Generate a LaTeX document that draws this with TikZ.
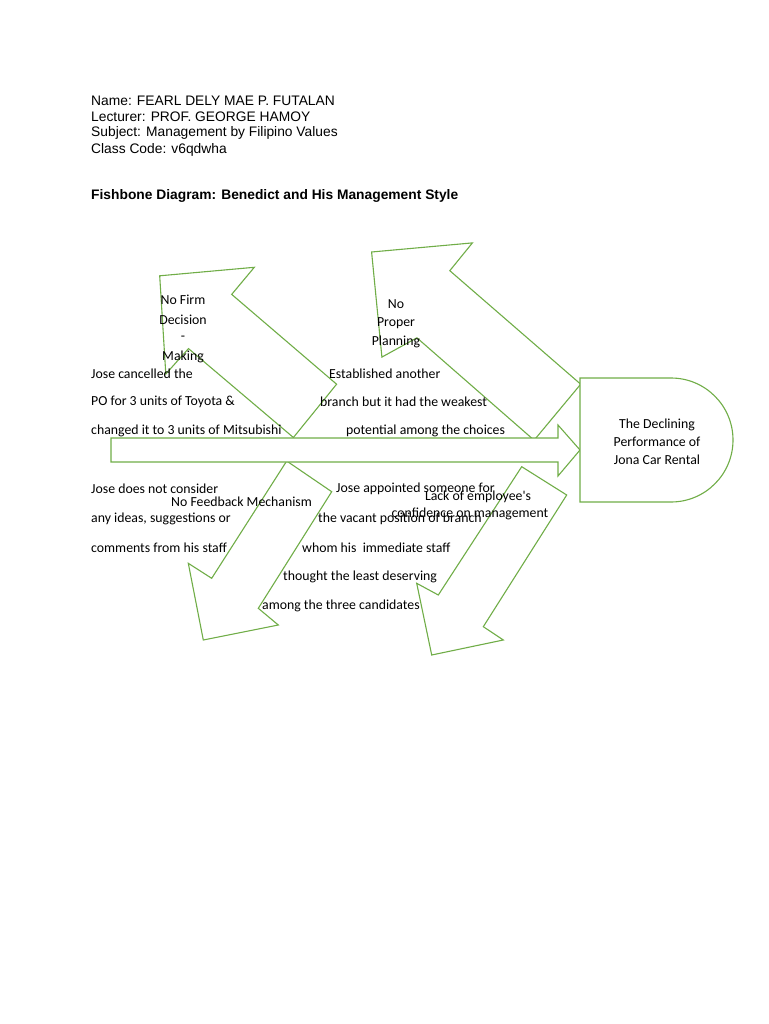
\documentclass[tikz,border=0pt]{standalone}
\usepackage{fontspec}
\setmainfont{Liberation Sans}
\newfontfamily\carlitofont{Carlito}
\begin{document}
\begin{tikzpicture}[x=1pt,y=-1pt,
  bone/.style={draw={rgb,255:red,112;green,173;blue,71},line width=1.1pt,line join=miter,fill=white},
  hdr/.style={anchor=west,inner sep=0pt,font=\fontsize{13.8}{15}\selectfont},
  lab/.style={anchor=west,inner sep=0pt,font=\carlitofont\fontsize{13.8}{15}\selectfont},
  clab/.style={inner sep=0pt,align=center,font=\carlitofont\fontsize{13.8}{15}\selectfont}]
\useasboundingbox (0,0) rectangle (768,1024);
\node[hdr] (h1) at (91,101) {Name: FEARL DELY MAE P. FUTALAN};
\node[hdr] (h2) at (91,117) {Lecturer: PROF. GEORGE HAMOY};
\node[hdr] (h3) at (91,133) {Subject: Management by Filipino Values};
\node[hdr] (h4) at (91,150) {Class Code: v6qdwha};
\node[hdr,font=\bfseries\fontsize{13.8}{15}\selectfont] (t) at (91,196) {Fishbone Diagram: Benedict and His Management Style};
% bones
\draw[bone] (293.4,437.5) -- (188.5,348.6) -- (165.8,374) -- (159.7,275.8) -- (254.3,267.3) -- (231.7,294.4) -- (336.6,384.2) -- cycle;
\draw[bone] (534.1,440.2) -- (416.9,337.8) -- (381.9,357.1) -- (371.6,252) -- (472.4,242.9) -- (449.8,270.7) -- (580.7,384.2) -- cycle;
\draw[bone] (286.7,461) -- (331.7,491.7) -- (258.3,608.3) -- (278.3,625) -- (203.3,640) -- (188.3,563.3) -- (211.7,578.3) -- cycle;
\draw[bone] (521.7,466.7) -- (566.7,495) -- (483.3,626.7) -- (503.3,640) -- (431.7,655) -- (416.7,583.3) -- (438.3,595) -- cycle;
\draw[bone] (111,438) -- (558,438) -- (558,425) -- (580,450) -- (558,476) -- (558,462) -- (111,462) -- cycle;
\draw[bone] (580,378) -- (671,378) arc[start angle=-90,end angle=90,radius=62] -- (580,502) -- cycle;
\node[clab] (head) at (657,442) {The Declining\\[3pt]Performance of\\[3pt]Jona Car Rental};
% labels
\node[clab] (c1) at (183,300) {No Firm};
\node[clab] (c1b) at (183,320) {Decision};
\node[clab] (c1c) at (183,338) {-};
\node[clab] (c1d) at (183,357) {Making};
\node[clab] (c2) at (396,304) {No};
\node[clab] (c2b) at (396,323) {Proper};
\node[clab] (c2c) at (396,342) {Planning};
\node[lab] (l1) at (91,374) {Jose cancelled the};
\node[lab] (l2) at (91,402) {PO for 3 units of Toyota \&};
\node[lab] (l3) at (91,431) {changed it to 3 units of Mitsubishi};
\node[lab] (l4) at (329,374) {Established another};
\node[lab] (l5) at (320,402) {branch but it had the weakest};
\node[lab] (l6) at (346,431) {potential among the choices};
\node[lab] (l7) at (91,489) {Jose does not consider};
\node[lab] (l8) at (91,519) {any ideas, suggestions or};
\node[lab] (l9) at (91,548) {comments from his staff};
\node[lab] (c3) at (171,502) {No Feedback Mechanism};
\node[lab] (m1) at (336,489) {Jose appointed someone for};
\node[lab] (m2) at (318,519) {the vacant position of branch};
\node[lab] (m3) at (302,548) {whom his\ \ immediate staff};
\node[lab] (m4) at (283,577) {thought the least deserving};
\node[lab] (m5) at (262,606) {among the three candidates};
\node[clab] (c4) at (478,497) {Lack of employee's};
\node[clab] (c4b) at (470,514) {confidence on management};
\end{tikzpicture}
\end{document}
